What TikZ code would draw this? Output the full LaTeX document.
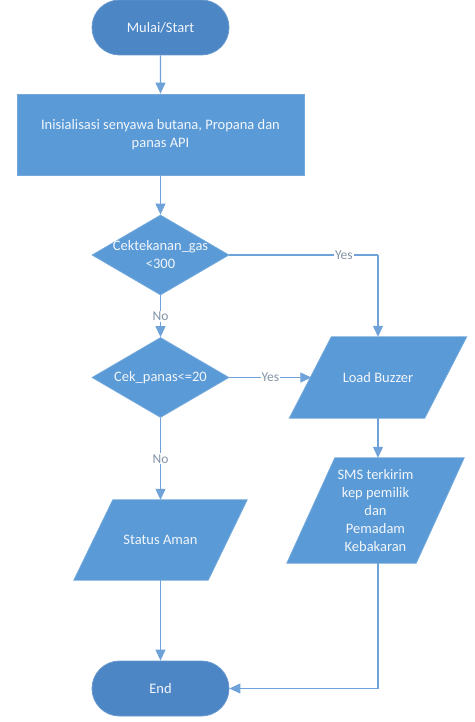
\documentclass[tikz,border=0pt]{standalone}
\usepackage{fontspec}
\setmainfont{Carlito}
\usetikzlibrary{shapes.geometric,shapes.misc,arrows.meta,backgrounds}
\definecolor{termblue}{HTML}{4C86C5}
\definecolor{boxblue}{HTML}{5A9AD6}
\definecolor{lineblue}{HTML}{6EA2D8}
\definecolor{lblgray}{HTML}{8394A8}
\definecolor{txtwhite}{HTML}{F2F6FB}
\tikzset{
  base/.style={draw=boxblue!85!white, line width=0.8pt, text=txtwhite, font=\fontsize{14.5}{18}\selectfont, align=center, inner sep=0pt},
  term/.style={base, fill=termblue, draw=termblue!85!white, rounded rectangle, minimum width=137pt, minimum height=55pt},
  procbox/.style={base, fill=boxblue, minimum width=287pt, minimum height=81pt},
  dec/.style={base, fill=boxblue, diamond, minimum width=137pt, minimum height=80pt},
  dectext/.style={text=txtwhite, font=\fontsize{14.5}{18}\selectfont, align=center, inner sep=0pt},
  paratext/.style={text=txtwhite, font=\fontsize{14.5}{18}\selectfont, align=center, inner sep=0pt, rectangle},
  parafill/.style={fill=boxblue, draw=boxblue!85!white, line width=0.8pt},
  conn/.style={draw=lineblue, line width=1.1pt, -{Triangle[width=10pt,length=11pt]}},
  plain/.style={draw=lineblue, line width=1.1pt},
  lbl/.style={fill=white, text=lblgray, font=\fontsize{13.5}{16}\selectfont, inner sep=1pt}
}
\newcommand{\paraback}[2]{%
  \begin{scope}[on background layer]
    \path[parafill] ([xshift=#2]#1.north west) -- ([xshift=#2]#1.north east)
      -- ([xshift=-#2]#1.south east) -- ([xshift=-#2]#1.south west) -- cycle;
  \end{scope}}
\begin{document}
\begin{tikzpicture}[x=1pt,y=-1pt]
\useasboundingbox (0,0) rectangle (474,722);
\node[term] (start) at (160.5,27.5) {Mulai/Start};
\node[procbox] (init) at (160.5,134.5) {Inisialisasi senyawa butana, Propana dan\\panas API};
\node[dec] (d1) at (160.5,255) {};
\node[dectext] (d1t) at (d1.center) {Cektekanan\_gas\\<300};
\node[dec] (d2) at (160.5,377.5) {};
\node[dectext] (d2t) at (d2.center) {Cek\_panas<=20};
\node[paratext, minimum width=135pt, minimum height=81pt] (lb) at (378,377.5) {Load Buzzer};
\paraback{lb}{21pt}
\node[paratext, minimum width=129pt, minimum height=105pt] (sms) at (375.5,510.5) {SMS terkirim\\kep pemilik\\dan\\Pemadam\\Kebakaran};
\paraback{sms}{24pt}
\node[paratext, minimum width=134pt, minimum height=80pt] (aman) at (160.5,540) {Status Aman};
\paraback{aman}{19.5pt}
\node[term] (end) at (160.5,688.5) {End};
\coordinate (c1) at (d1.east -| lb.north);
\coordinate (smstop) at (lb.south |- sms.north);
\coordinate (smsbot) at (lb.south |- sms.south);
\coordinate (c2) at (lb.south |- end.east);
\coordinate (lbw) at ([xshift=1pt]lb.west);

\draw[conn] (start) -- (init);
\draw[conn] (init) -- (d1);
\draw[plain] (d1.east) -- node[lbl, pos=0.77] (y1) {Yes} (c1);
\draw[conn] (c1) -- (lb.north);
\draw[conn] (d1.south) -- node[lbl] (n1) {No} (d2.north);
\draw[conn] (d2.east) -- node[lbl, pos=0.5] (y2) {Yes} (lbw);
\draw[conn] (lb.south) -- (smstop);
\draw[conn] (d2.south) -- node[lbl] (n2) {No} (aman.north);
\draw[conn] (aman.south) -- (end.north);
\draw[plain] (smsbot) -- (c2);
\draw[conn] (c2) -- (end.east);
\end{tikzpicture}
\end{document}
